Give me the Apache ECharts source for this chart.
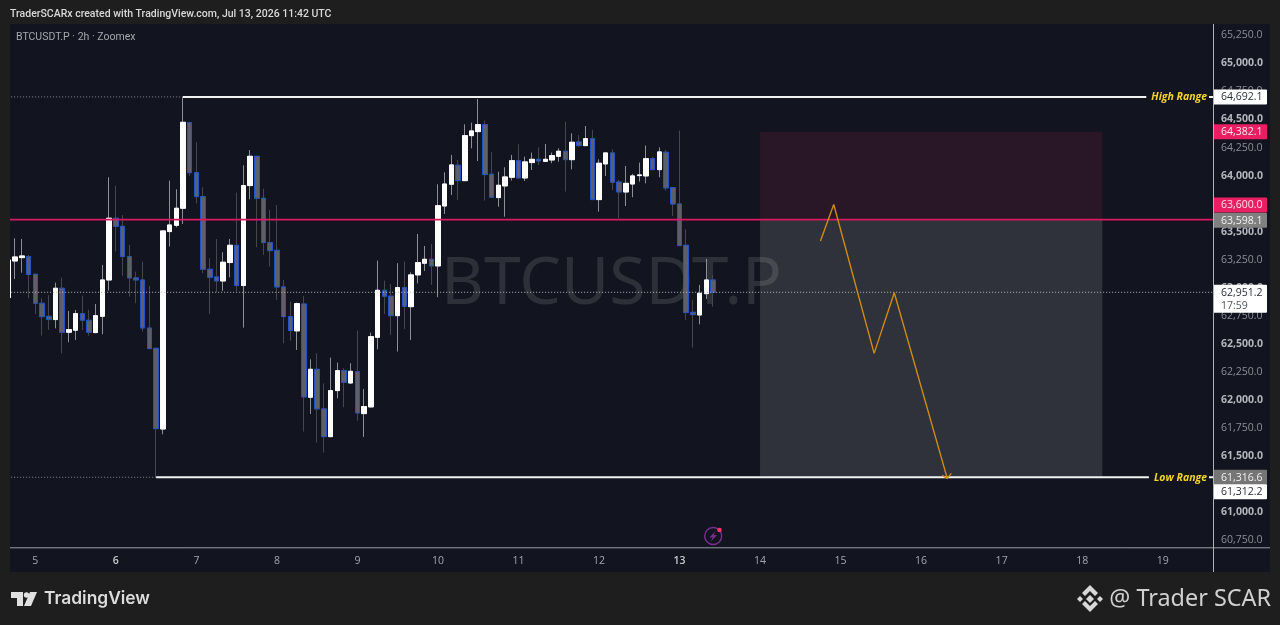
<!DOCTYPE html>
<html><head><meta charset="utf-8">
<style>html,body{margin:0;padding:0;background:#1e1e1e}#c{width:1280px;height:625px}</style>
<script src="https://cdn.jsdelivr.net/npm/echarts@6/dist/echarts.min.js"></script>
</head><body><div id="c"></div>
<script>
// OHLC
const opens=[62904,63230,63260,63269,63112,62853,62737,62708,62987,62595,62613,62761,62702,62592,62737,63061,63611,63539,63269,63079,63061,62633,62452,61733,63492,63548,63700,64463,64017,63804,63156,63088,63052,63216,63370,63011,63902,64163,63789,63394,63325,62999,62734,62607,62847,62016,62265,61912,61665,62075,62253,62143,62244,61870,61930,62550,62969,62916,62743,62993,62823,63106,63210,63245,63186,63720,63914,64083,63946,64347,64383,64445,64003,63795,63899,63976,64124,63970,64107,64136,64118,64130,64163,64208,64133,64291,64258,64320,63777,64095,64193,63934,63845,63916,63991,63988,64142,64044,64199,63884,63738,63370,62773,62749,62939,63061];
const closes=[63239,63266,63275,63109,62853,62734,62708,62987,62595,62619,62761,62702,62595,62743,63061,63611,63539,63269,63079,63061,62633,62449,61736,63498,63551,63700,64466,64017,63804,63156,63085,63052,63219,63370,63011,63902,64163,63789,63394,63322,62999,62734,62610,62850,62019,62265,61912,61665,62075,62253,62149,62247,61876,61933,62556,62969,62916,62743,62993,62826,63106,63216,63245,63186,63723,63916,64086,63946,64347,64389,64445,64000,63798,63905,63979,64124,63970,64113,64136,64121,64136,64169,64208,64133,64288,64258,64320,63777,64101,64193,63931,63845,63922,63988,63997,64142,64044,64202,63881,63738,63367,62770,62752,62942,63061,62951.2];
const highs=[63239,63432,63426,63284,63112,62898,62927,63037,63082,62785,62794,62921,62794,62847,63195,63976,63899,63640,63373,63135,63224,63008,62452,63498,63946,63869,64692,64463,64288,63887,63254,63426,63308,63426,63839,64083,64219,64163,63875,63685,63729,63061,62868,62859,62919,62354,62408,62140,62369,62325,62274,62319,62610,62090,62592,63233,63055,63025,63210,63224,63129,63471,63364,63382,63914,64020,64175,64130,64448,64463,64674,64481,64199,64026,64065,64175,64270,64160,64196,64243,64273,64196,64234,64472,64368,64353,64433,64398,64136,64196,64225,63952,64077,64006,64107,64258,64160,64243,64219,63884,64392,63513,62883,63017,63248,63106];
const lows=[62904,63070,63126,62898,62758,62565,62616,62630,62408,62506,62526,62616,62565,62586,62577,62966,63314,63097,62913,62853,62601,62449,61309,61686,63358,63530,63560,63988,63744,63120,62758,62951,62963,63085,62957,62636,63780,63352,63284,63180,62883,62497,62521,62437,61710,61867,61612,61523,61659,62007,61927,62134,61808,61662,61924,62443,62758,62571,62423,62625,62526,63031,63141,63017,62907,63649,63818,63774,63946,64234,64121,63768,63798,63714,63625,63946,63967,63943,64041,64086,64115,64101,64115,63848,64047,64249,64255,63774,63670,63988,63863,63611,63720,63798,63937,63922,64041,63976,63857,63631,63367,62705,62458,62666,62892,62823];
// axis labels
const dayLabels=[5,6,7,8,9,10,11,12,13,14,15,16,17,18,19];
const boldDays=[6,13];
// levels
const rangeHigh=64692.1, rangeLow=61303, entryLine=63598.1, lastPrice=62951.2;
const boxTop=64382.1, boxLow=61303;
const highStart=26, lowStart=22, boxStart=112, boxEnd=163;
// forecast path: bar position, price
const pathBars=[121,122.98,129,132,139.9];
const pathPrices=[63408,63733,62407,62947,61293];
// price tags
const tagValues=[64692.1,64382.1,63600,63598.1,62951.2,61316.6,61312.2];
const tagTexts=['64,692.1','64,382.1','63,600.0','63,598.1','62,951.2','61,316.6','61,312.2'];

const SLOTS=180, LEFT=5.15, RIGHT=1213, LAST=SLOTS-0.5;
const categories=Array.from({length:SLOTS},(_,i)=>{
  const d=Math.floor((i-4)/12);
  return (dayLabels[d]??(d<0?4:20+d-15))+':'+(((i-4)%12+12)%12)*2;
});
const wickData=opens.map((o,i)=>[o,closes[i],lows[i],highs[i]]);
const bodyData=opens.map((o,i)=>[o,closes[i],Math.min(o,closes[i]),Math.max(o,closes[i])]);
const tagStyle=[['#ffffff','#2a2e39'],['#e91e63','#fce4ec'],['#e91e63','#fce4ec'],['#808080','#f0f0f0'],['#ffffff','#2a2e39'],['#757575','#f0f0f0'],['#ffffff','#2a2e39']];
const tagShift=[0,0,-14.5,0.5,6.5,1.5,15.5];
const tagHeight=[15,15,15,15,28,15,15];
const panel='#12151f', page='#1e1e1e';
const axisFont='Open Sans';

const chart=echarts.init(document.getElementById('c'),null,{renderer:'canvas'});
chart.setOption({
  animation:false,
  backgroundColor:page,
  grid:{left:LEFT,right:1280-RIGHT,top:34.3,bottom:625-539.3,containLabel:false},
  xAxis:[
    {type:'category',data:categories,position:'bottom',offset:8.7,boundaryGap:true,
     axisLine:{show:false},axisTick:{show:false},splitLine:{show:false},
     axisLabel:{interval:(i)=>(i-4)%12===0&&i>=4,margin:7.5,
       formatter:(v)=>{const d=+v.split(':')[0];return boldDays.includes(d)?'{b|'+d+'}':'{a|'+d+'}';},
       rich:{a:{color:'#a3a6af',fontSize:10.5,fontFamily:axisFont},b:{color:'#c6c8ce',fontSize:10.5,fontWeight:600,fontFamily:axisFont}}}},
    {type:'value',min:-0.5,max:LAST,show:false,splitLine:{show:false}}
  ],
  yAxis:{type:'value',position:'right',min:60750,max:65250,interval:250,
    axisLine:{show:false},axisTick:{show:false},splitLine:{show:false},
    axisLabel:{margin:8,
      formatter:(v)=>{const t=v.toLocaleString('en-US',{minimumFractionDigits:1});return v%500===0?'{b|'+t+'}':'{a|'+t+'}';},
      rich:{a:{color:'#8b8e97',fontSize:10.5,fontFamily:axisFont,padding:[2,0,0,0]},b:{color:'#b4b6bd',fontSize:10.5,fontWeight:'bold',fontFamily:axisFont,padding:[2,0,0,0]}}}},
  series:[
    {type:'line',name:'box',xAxisIndex:1,data:[],z:1,
     markArea:{silent:true,itemStyle:{borderWidth:0},data:[
       [{xAxis:boxStart,yAxis:boxTop,itemStyle:{color:'rgba(233,50,110,0.105)'}},{xAxis:boxEnd,yAxis:entryLine}],
       [{xAxis:boxStart,yAxis:entryLine,itemStyle:{color:'rgba(255,255,255,0.125)'}},{xAxis:boxEnd,yAxis:boxLow}]
     ]}},
    {type:'candlestick',name:'wicks',barWidth:5,z:2,data:wickData,
     itemStyle:{color:'#8d8f94',color0:'#45474d',borderColor:'#8d8f94',borderColor0:'#45474d',borderWidth:1}},
    {type:'candlestick',name:'bodies',barWidth:5,z:3,data:bodyData,
     itemStyle:{color:'#ffffff',color0:'#5d606b',borderColor:'#ffffff',borderColor0:'#2452c4',borderWidth:1}},
    {type:'line',name:'lastDots',xAxisIndex:1,symbol:'none',z:4,lineStyle:{color:'#b8bac0',width:1,type:[1,2]},data:[[-0.5,lastPrice],[LAST,lastPrice]]},
    {type:'line',name:'highDots',xAxisIndex:1,symbol:'none',z:4,lineStyle:{color:'#8a8c92',width:1,type:[1,2]},data:[[-0.5,rangeHigh],[highStart,rangeHigh]]},
    {type:'line',name:'lowDots',xAxisIndex:1,symbol:'none',z:4,lineStyle:{color:'#8a8c92',width:1,type:[1,2]},data:[[-0.5,rangeLow],[lowStart,rangeLow]]},
    {type:'line',name:'high',xAxisIndex:1,symbol:'none',z:5,lineStyle:{color:'#f2f2f2',width:2},data:[[highStart,rangeHigh],[LAST,rangeHigh]]},
    {type:'line',name:'low',xAxisIndex:1,symbol:'none',z:5,lineStyle:{color:'#f2f2f2',width:2},data:[[lowStart,rangeLow],[LAST,rangeLow]]},
    {type:'line',name:'entry',xAxisIndex:1,symbol:'none',z:5,lineStyle:{color:'#d81b60',width:1.8},data:[[-0.5,entryLine],[LAST,entryLine]]},
    {type:'line',name:'path',xAxisIndex:1,symbol:'none',z:6,lineStyle:{color:'#cf8a12',width:1.4},data:pathBars.map((b,i)=>[b,pathPrices[i]])},
    {type:'custom',name:'arrow',xAxisIndex:1,z:6,clip:false,data:[[pathBars[4],pathPrices[4]]],encode:{x:0,y:1},
     renderItem:(p,api)=>{const c=api.coord([api.value(0),api.value(1)]);return {type:'polyline',shape:{points:[[c[0]-5,c[1]-3],c,[c[0]+4,c[1]-5]]},style:{stroke:'#cf8a12',fill:null,lineWidth:1.3}};}},
    {type:'custom',name:'rangeLabels',xAxisIndex:1,z:7,clip:false,data:[[LAST,rangeHigh],[LAST,rangeLow]],encode:{x:0,y:1},
     renderItem:(p,api)=>{const c=api.coord([api.value(0),api.value(1)]);
       return {type:'text',x:c[0]-4,y:c[1]+0.5,style:{text:p.dataIndex?'Low Range':'High Range',align:'right',verticalAlign:'middle',fill:'#f5d327',font:'italic bold 10.5px "Open Sans"',backgroundColor:panel,padding:[1,2,1,5]}};}},
    {type:'custom',name:'tags',xAxisIndex:1,z:8,clip:false,data:tagValues.map(v=>[LAST,v]),encode:{x:0,y:1},
     renderItem:(p,api)=>{const i=p.dataIndex,c=api.coord([api.value(0),api.value(1)]);
       const h=tagHeight[i],cy=c[1]+tagShift[i],[bg,fg]=tagStyle[i],top=cy-h/2;
       const kids=[{type:'rect',shape:{x:c[0],y:top,width:54,height:h,r:[0,1,1,0]},style:{fill:bg}},
         {type:'text',x:c[0]+8,y:top+8,style:{text:tagTexts[i],fill:fg,font:'10.5px "Open Sans"',verticalAlign:'middle'}}];
       if(h>15)kids.push({type:'text',x:c[0]+8,y:top+21,style:{text:'17:59',fill:'#50535e',font:'10.5px "Open Sans"',verticalAlign:'middle'}});
       return {type:'group',children:kids};}}
  ],
  graphic:[
    {type:'rect',z:-10,silent:true,shape:{x:10,y:24,width:1260,height:548},style:{fill:panel}},
    {type:'text',z:-6,silent:true,x:441,y:285,style:{text:'BTCUSDT.P',fill:'#2d3039',font:'66px "Noto Sans"',verticalAlign:'middle'}},
    {type:'rect',z:90,silent:true,shape:{x:0,y:24,width:10,height:548},style:{fill:page}},
    {type:'line',z:91,silent:true,shape:{x1:10,y1:547.8,x2:1270,y2:547.8},style:{stroke:'#9a9ca3',lineWidth:1}},
    {type:'line',z:91,silent:true,shape:{x1:1213.5,y1:24,x2:1213.5,y2:572},style:{stroke:'#b0b2b8',lineWidth:1}},
    {type:'text',z:92,silent:true,x:10,y:14,style:{text:'TraderSCARx created with TradingView.com, Jul 13, 2026 11:42 UTC',fill:'#d9d9d9',font:'500 10.5px Roboto',verticalAlign:'middle'}},
    {type:'text',z:92,silent:true,x:16,y:37.5,style:{text:'BTCUSDT.P · 2h · Zoomex',fill:'#a6a8ae',font:'10.5px Roboto',verticalAlign:'middle'}},
    // TradingView logo
    {type:'polygon',z:92,silent:true,shape:{points:[[11,592],[23,592],[23,606],[17,606],[17,598],[11,598]]},style:{fill:'#e0e0e0'}},
    {type:'circle',z:92,silent:true,shape:{cx:26.5,cy:595,r:2.7},style:{fill:'#e0e0e0'}},
    {type:'polygon',z:92,silent:true,shape:{points:[[30,592],[37,592],[31,606],[24,606]]},style:{fill:'#e0e0e0'}},
    {type:'text',z:92,silent:true,x:44,y:599,style:{text:'TradingView',fill:'#dcdcdc',font:'600 17.4px Inter',verticalAlign:'middle'}},
    // Binance style mark
    {type:'polygon',z:92,silent:true,shape:{points:[[1090,585],[1098,593],[1095,596],[1090,591],[1085,596],[1082,593]]},style:{fill:'#d8d8d8'}},
    {type:'polygon',z:92,silent:true,shape:{points:[[1090,612],[1098,604],[1095,601],[1090,606],[1085,601],[1082,604]]},style:{fill:'#d8d8d8'}},
    {type:'polygon',z:92,silent:true,shape:{points:[[1090,595],[1094,599],[1090,603],[1086,599]]},style:{fill:'#d8d8d8'}},
    {type:'polygon',z:92,silent:true,shape:{points:[[1080,596],[1083,599],[1080,602],[1077,599]]},style:{fill:'#d8d8d8'}},
    {type:'polygon',z:92,silent:true,shape:{points:[[1100,596],[1103,599],[1100,602],[1097,599]]},style:{fill:'#d8d8d8'}},
    {type:'text',z:92,silent:true,x:1271,y:599,style:{text:'@ Trader SCAR',fill:'#d0d0d0',font:'23.4px "Noto Sans"',align:'right',verticalAlign:'middle'}},
    // alert icon
    {type:'circle',z:92,silent:true,shape:{cx:713.2,cy:536,r:8.5},style:{fill:'none',stroke:'#7a2f8f',lineWidth:1.4}},
    {type:'polygon',z:92,silent:true,shape:{points:[[716,530.5],[709.5,537.5],[712.8,537.5],[710.5,542],[717,535],[713.5,535]]},style:{fill:'#7a2f8f'}},
    {type:'circle',z:93,silent:true,shape:{cx:719.5,cy:530,r:2.3},style:{fill:'#f23668'}}
  ]
});
</script></body></html>
